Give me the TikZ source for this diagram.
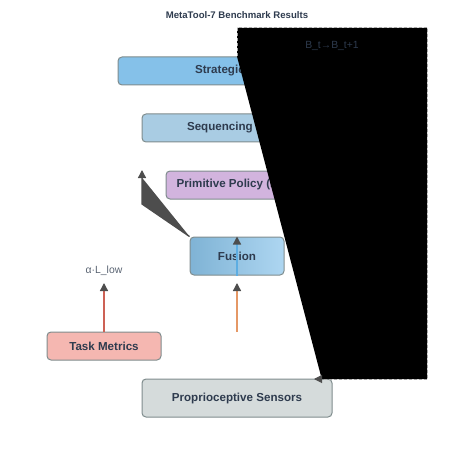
\documentclass[tikz,border=0pt]{standalone}
\usepackage{fontspec}
\setmainfont{Liberation Sans}
\usetikzlibrary{arrows.meta}
\definecolor{txtdark}{HTML}{2E3B4E}
\definecolor{boxline}{HTML}{7F8C8D}
\definecolor{tipgray}{HTML}{4D4D4D}
\definecolor{stratfill}{HTML}{85C1E9}
\definecolor{seqfill}{HTML}{A9CCE3}
\definecolor{primfill}{HTML}{D2B4DE}
\definecolor{fuseleft}{HTML}{7FB3D5}
\definecolor{fuseright}{HTML}{AED6F1}
\definecolor{taskfill}{HTML}{F5B7B1}
\definecolor{sensfill}{HTML}{D5DBDB}
\definecolor{redline}{HTML}{CD6155}
\definecolor{orangeline}{HTML}{E59866}
\definecolor{blueline}{HTML}{5DADE2}
\tikzset{
  layer/.style={
    rectangle,
    rounded corners=3pt,
    draw=boxline,
    line width=0.75pt,
    text=txtdark,
    font=\fontsize{8.7}{10}\selectfont\bfseries,
    inner sep=0pt
  }
}
\tikzset{
  flow/.style={
    line width=1pt,
    -{Triangle[width=6pt,length=6pt,color=tipgray]}
  }
}
\def\lbl#1{\fontsize{7.8}{9}\selectfont #1}

\begin{document}
\begin{tikzpicture}[x=0.75pt,y=-0.75pt]
    \useasboundingbox (0,0) rectangle (474,474);
    \node[font=\fontsize{7.2}{9}\selectfont\bfseries, text=txtdark] (title) at (237,15) {MetaTool-7 Benchmark Results};
    \node[layer, fill=stratfill, minimum width=178.5pt, minimum height=21pt] (strategic) at (237,71) {Strategic Layer};
    \node[layer, fill=seqfill, minimum width=142.5pt, minimum height=21pt] (sequencing) at (237,128) {Sequencing Layer};
    \node[layer, fill=primfill, minimum width=106.5pt, minimum height=21pt] (primitive) at (237,185) {Primitive Policy (Low)};
    \node[layer, left color=fuseleft, right color=fuseright, minimum width=70.5pt, minimum height=28.5pt] (fusion) at (237,256) {Fusion};
    \node[layer, fill=taskfill, minimum width=85.5pt, minimum height=21pt] (task) at (104,346) {Task Metrics};
    \node[layer, fill=sensfill, minimum width=142.5pt, minimum height=28.5pt] (sensors) at (237,398) {Proprioceptive Sensors};
    \coordinate (lowloss) at (104,283);
    \coordinate (rawin) at (237,332);
    \coordinate (fusein) at (237,283);
    \coordinate (skipbend) at (142,204);
    \coordinate (skipend) at (142,170);
    \coordinate (fbcorner) at (427,28);
    \coordinate (fbend) at (314,379);
    \draw[flow, redline] (task) to (lowloss);
    \node[text=txtdark!80] (losslbl) at (104,271) {\lbl{α·L\_low}};
    \draw[flow, orangeline] (rawin) to (fusein);
    \draw[flow, blueline] (fusion.south) to (fusion.north);
    \draw[tipgray, fill=tipgray, line width=1pt, -{Triangle[width=6pt,length=6pt]}] (fusion.north west) -- (skipbend) -- (skipend);
    \draw[gray!70, fill=black, line width=0.75pt, dash pattern=on 2.25pt off 1.5pt, -{Triangle[width=6pt,length=6pt,color=tipgray]}] (strategic.north) |- node[pos=0.75, below=6pt, text=txtdark] {\lbl{B\_t→B\_t+1}} (fbcorner) |- (fbend);
  \end{tikzpicture}
\end{document}
